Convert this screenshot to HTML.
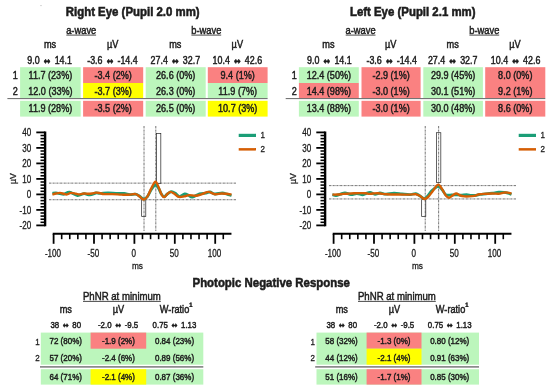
<!DOCTYPE html>
<html lang="en"><head><meta charset="utf-8"><title>ERG Report</title>
<style>
html,body{margin:0;padding:0;background:#fff;}
body{width:550px;height:390px;overflow:hidden;}
svg{display:block;font-family:'Liberation Sans', 'DejaVu Sans', sans-serif;}
text{stroke:#1c1c1c;stroke-width:0.45px;}
text.ttl{stroke-width:0.55px;}
text.ax{stroke-width:0.3px;}
</style></head><body>
<svg width="550" height="390" viewBox="0 0 550 390">
<rect width="550" height="390" fill="#fff"/>
<circle cx="41" cy="5.6" r="0.6" fill="#b0b0b0"/>
<text transform="translate(132.70,15.80) scale(0.907,1)" font-size="12.6" font-weight="bold" text-anchor="middle" fill="#1c1c1c" class="ttl">Right Eye (Pupil 2.0 mm)</text>
<text transform="translate(81.20,33.60) scale(0.9,1)" font-size="10.4" font-weight="normal" text-anchor="middle" fill="#1c1c1c">a-wave</text>
<line x1="66.30" y1="35.10" x2="96.10" y2="35.10" stroke="#1c1c1c" stroke-width="0.8"/>
<text transform="translate(206.30,33.60) scale(0.9,1)" font-size="10.4" font-weight="normal" text-anchor="middle" fill="#1c1c1c">b-wave</text>
<line x1="191.40" y1="35.10" x2="221.20" y2="35.10" stroke="#1c1c1c" stroke-width="0.8"/>
<text transform="translate(50.00,48.40) scale(0.92,1)" font-size="10.0" font-weight="normal" text-anchor="middle" fill="#1c1c1c">ms</text>
<text transform="translate(49.65,63.60) scale(0.88,1)" font-size="10.1" font-weight="normal" text-anchor="middle" fill="#1c1c1c" style="word-spacing:1.9px">9.0 <tspan font-family="DejaVu Sans, sans-serif" font-weight="bold" font-size="0.9em">↔</tspan> 14.1</text>
<text transform="translate(112.75,48.40) scale(0.92,1)" font-size="10.0" font-weight="normal" text-anchor="middle" fill="#1c1c1c">µV</text>
<text transform="translate(112.45,63.60) scale(0.88,1)" font-size="10.1" font-weight="normal" text-anchor="middle" fill="#1c1c1c" style="word-spacing:1.9px">-3.6 <tspan font-family="DejaVu Sans, sans-serif" font-weight="bold" font-size="0.9em">↔</tspan> -14.4</text>
<text transform="translate(175.30,48.40) scale(0.92,1)" font-size="10.0" font-weight="normal" text-anchor="middle" fill="#1c1c1c">ms</text>
<text transform="translate(175.35,63.60) scale(0.88,1)" font-size="10.1" font-weight="normal" text-anchor="middle" fill="#1c1c1c" style="word-spacing:1.9px">27.4 <tspan font-family="DejaVu Sans, sans-serif" font-weight="bold" font-size="0.9em">↔</tspan> 32.7</text>
<text transform="translate(237.30,48.40) scale(0.92,1)" font-size="10.0" font-weight="normal" text-anchor="middle" fill="#1c1c1c">µV</text>
<text transform="translate(237.35,63.60) scale(0.88,1)" font-size="10.1" font-weight="normal" text-anchor="middle" fill="#1c1c1c" style="word-spacing:1.9px">10.4 <tspan font-family="DejaVu Sans, sans-serif" font-weight="bold" font-size="0.9em">↔</tspan> 42.6</text>
<rect x="20.10" y="67.20" width="60.60" height="15.80" fill="#bcf6bc"/>
<text transform="translate(50.40,79.40) scale(0.9,1)" font-size="10.1" font-weight="normal" text-anchor="middle" fill="#1c1c1c">11.7 (23%)</text>
<rect x="83.10" y="67.20" width="60.10" height="15.80" fill="#fa8181"/>
<text transform="translate(113.15,79.40) scale(0.9,1)" font-size="10.1" font-weight="normal" text-anchor="middle" fill="#1c1c1c">-3.4 (2%)</text>
<rect x="145.70" y="67.20" width="60.00" height="15.80" fill="#bcf6bc"/>
<text transform="translate(175.70,79.40) scale(0.9,1)" font-size="10.1" font-weight="normal" text-anchor="middle" fill="#1c1c1c">26.6 (0%)</text>
<rect x="207.80" y="67.20" width="59.80" height="15.80" fill="#fa8181"/>
<text transform="translate(237.70,79.40) scale(0.9,1)" font-size="10.1" font-weight="normal" text-anchor="middle" fill="#1c1c1c">9.4 (1%)</text>
<rect x="20.10" y="83.00" width="60.60" height="15.10" fill="#bcf6bc"/>
<text transform="translate(50.40,94.60) scale(0.9,1)" font-size="10.1" font-weight="normal" text-anchor="middle" fill="#1c1c1c">12.0 (33%)</text>
<rect x="83.10" y="83.00" width="60.10" height="15.10" fill="#ffff00"/>
<text transform="translate(113.15,94.60) scale(0.9,1)" font-size="10.1" font-weight="normal" text-anchor="middle" fill="#1c1c1c">-3.7 (3%)</text>
<rect x="145.70" y="83.00" width="60.00" height="15.10" fill="#bcf6bc"/>
<text transform="translate(175.70,94.60) scale(0.9,1)" font-size="10.1" font-weight="normal" text-anchor="middle" fill="#1c1c1c">26.3 (0%)</text>
<rect x="207.80" y="83.00" width="59.80" height="15.10" fill="#bcf6bc"/>
<text transform="translate(237.70,94.60) scale(0.9,1)" font-size="10.1" font-weight="normal" text-anchor="middle" fill="#1c1c1c">11.9 (7%)</text>
<rect x="20.10" y="100.80" width="60.60" height="15.80" fill="#bcf6bc"/>
<text transform="translate(50.40,112.30) scale(0.9,1)" font-size="10.1" font-weight="normal" text-anchor="middle" fill="#1c1c1c">11.9 (28%)</text>
<rect x="83.10" y="100.80" width="60.10" height="15.80" fill="#fa8181"/>
<text transform="translate(113.15,112.30) scale(0.9,1)" font-size="10.1" font-weight="normal" text-anchor="middle" fill="#1c1c1c">-3.5 (2%)</text>
<rect x="145.70" y="100.80" width="60.00" height="15.80" fill="#bcf6bc"/>
<text transform="translate(175.70,112.30) scale(0.9,1)" font-size="10.1" font-weight="normal" text-anchor="middle" fill="#1c1c1c">26.5 (0%)</text>
<rect x="207.80" y="100.80" width="59.80" height="15.80" fill="#ffff00"/>
<text transform="translate(237.70,112.30) scale(0.9,1)" font-size="10.1" font-weight="normal" text-anchor="middle" fill="#1c1c1c">10.7 (3%)</text>
<text transform="translate(17.90,79.40) scale(0.9,1)" font-size="10.1" font-weight="normal" text-anchor="end" fill="#1c1c1c">1</text>
<text transform="translate(17.90,94.60) scale(0.9,1)" font-size="10.1" font-weight="normal" text-anchor="end" fill="#1c1c1c">2</text>
<line x1="7.40" y1="98.60" x2="267.60" y2="98.60" stroke="#4a4a4a" stroke-width="0.85"/>
<text transform="translate(412.70,15.80) scale(0.907,1)" font-size="12.6" font-weight="bold" text-anchor="middle" fill="#1c1c1c" class="ttl">Left Eye (Pupil 2.1 mm)</text>
<text transform="translate(360.60,33.60) scale(0.9,1)" font-size="10.4" font-weight="normal" text-anchor="middle" fill="#1c1c1c">a-wave</text>
<line x1="345.70" y1="35.10" x2="375.50" y2="35.10" stroke="#1c1c1c" stroke-width="0.8"/>
<text transform="translate(484.30,33.60) scale(0.9,1)" font-size="10.4" font-weight="normal" text-anchor="middle" fill="#1c1c1c">b-wave</text>
<line x1="469.40" y1="35.10" x2="499.20" y2="35.10" stroke="#1c1c1c" stroke-width="0.8"/>
<text transform="translate(328.45,48.40) scale(0.92,1)" font-size="10.0" font-weight="normal" text-anchor="middle" fill="#1c1c1c">ms</text>
<text transform="translate(329.40,63.60) scale(0.88,1)" font-size="10.1" font-weight="normal" text-anchor="middle" fill="#1c1c1c" style="word-spacing:1.9px">9.0 <tspan font-family="DejaVu Sans, sans-serif" font-weight="bold" font-size="0.9em">↔</tspan> 14.1</text>
<text transform="translate(390.65,48.40) scale(0.92,1)" font-size="10.0" font-weight="normal" text-anchor="middle" fill="#1c1c1c">µV</text>
<text transform="translate(391.70,63.60) scale(0.88,1)" font-size="10.1" font-weight="normal" text-anchor="middle" fill="#1c1c1c" style="word-spacing:1.9px">-3.6 <tspan font-family="DejaVu Sans, sans-serif" font-weight="bold" font-size="0.9em">↔</tspan> -14.4</text>
<text transform="translate(452.70,48.40) scale(0.92,1)" font-size="10.0" font-weight="normal" text-anchor="middle" fill="#1c1c1c">ms</text>
<text transform="translate(452.65,63.60) scale(0.88,1)" font-size="10.1" font-weight="normal" text-anchor="middle" fill="#1c1c1c" style="word-spacing:1.9px">27.4 <tspan font-family="DejaVu Sans, sans-serif" font-weight="bold" font-size="0.9em">↔</tspan> 32.7</text>
<text transform="translate(514.85,48.40) scale(0.92,1)" font-size="10.0" font-weight="normal" text-anchor="middle" fill="#1c1c1c">µV</text>
<text transform="translate(515.60,63.60) scale(0.88,1)" font-size="10.1" font-weight="normal" text-anchor="middle" fill="#1c1c1c" style="word-spacing:1.9px">10.4 <tspan font-family="DejaVu Sans, sans-serif" font-weight="bold" font-size="0.9em">↔</tspan> 42.6</text>
<rect x="298.90" y="67.20" width="59.90" height="15.80" fill="#bcf6bc"/>
<text transform="translate(328.85,79.40) scale(0.9,1)" font-size="10.1" font-weight="normal" text-anchor="middle" fill="#1c1c1c">12.4 (50%)</text>
<rect x="361.50" y="67.20" width="59.10" height="15.80" fill="#fa8181"/>
<text transform="translate(391.05,79.40) scale(0.9,1)" font-size="10.1" font-weight="normal" text-anchor="middle" fill="#1c1c1c">-2.9 (1%)</text>
<rect x="423.30" y="67.20" width="59.60" height="15.80" fill="#bcf6bc"/>
<text transform="translate(453.10,79.40) scale(0.9,1)" font-size="10.1" font-weight="normal" text-anchor="middle" fill="#1c1c1c">29.9 (45%)</text>
<rect x="485.20" y="67.20" width="60.10" height="15.80" fill="#fa8181"/>
<text transform="translate(515.25,79.40) scale(0.9,1)" font-size="10.1" font-weight="normal" text-anchor="middle" fill="#1c1c1c">8.0 (0%)</text>
<rect x="298.90" y="83.00" width="59.90" height="15.10" fill="#fa8181"/>
<text transform="translate(328.85,94.60) scale(0.9,1)" font-size="10.1" font-weight="normal" text-anchor="middle" fill="#1c1c1c">14.4 (98%)</text>
<rect x="361.50" y="83.00" width="59.10" height="15.10" fill="#fa8181"/>
<text transform="translate(391.05,94.60) scale(0.9,1)" font-size="10.1" font-weight="normal" text-anchor="middle" fill="#1c1c1c">-3.0 (1%)</text>
<rect x="423.30" y="83.00" width="59.60" height="15.10" fill="#bcf6bc"/>
<text transform="translate(453.10,94.60) scale(0.9,1)" font-size="10.1" font-weight="normal" text-anchor="middle" fill="#1c1c1c">30.1 (51%)</text>
<rect x="485.20" y="83.00" width="60.10" height="15.10" fill="#fa8181"/>
<text transform="translate(515.25,94.60) scale(0.9,1)" font-size="10.1" font-weight="normal" text-anchor="middle" fill="#1c1c1c">9.2 (1%)</text>
<rect x="298.90" y="100.80" width="59.90" height="15.80" fill="#bcf6bc"/>
<text transform="translate(328.85,112.30) scale(0.9,1)" font-size="10.1" font-weight="normal" text-anchor="middle" fill="#1c1c1c">13.4 (88%)</text>
<rect x="361.50" y="100.80" width="59.10" height="15.80" fill="#fa8181"/>
<text transform="translate(391.05,112.30) scale(0.9,1)" font-size="10.1" font-weight="normal" text-anchor="middle" fill="#1c1c1c">-3.0 (1%)</text>
<rect x="423.30" y="100.80" width="59.60" height="15.80" fill="#bcf6bc"/>
<text transform="translate(453.10,112.30) scale(0.9,1)" font-size="10.1" font-weight="normal" text-anchor="middle" fill="#1c1c1c">30.0 (48%)</text>
<rect x="485.20" y="100.80" width="60.10" height="15.80" fill="#fa8181"/>
<text transform="translate(515.25,112.30) scale(0.9,1)" font-size="10.1" font-weight="normal" text-anchor="middle" fill="#1c1c1c">8.6 (0%)</text>
<text transform="translate(296.80,79.40) scale(0.9,1)" font-size="10.1" font-weight="normal" text-anchor="end" fill="#1c1c1c">1</text>
<text transform="translate(296.80,94.60) scale(0.9,1)" font-size="10.1" font-weight="normal" text-anchor="end" fill="#1c1c1c">2</text>
<line x1="285.70" y1="98.60" x2="545.30" y2="98.60" stroke="#4a4a4a" stroke-width="0.85"/>
<rect x="141.67" y="199.68" width="4.12" height="16.74" fill="#fff" stroke="#222" stroke-width="0.7"/>
<rect x="156.54" y="133.50" width="4.28" height="49.91" fill="#fff" stroke="#222" stroke-width="0.7"/>
<line x1="49.00" y1="183.14" x2="236.00" y2="183.14" stroke="#444" stroke-width="0.75" stroke-dasharray="2 0.55 0.6 0.55"/>
<line x1="49.00" y1="199.73" x2="236.00" y2="199.73" stroke="#444" stroke-width="0.75" stroke-dasharray="2 0.55 0.6 0.55"/>
<line x1="144.02" y1="126.00" x2="144.02" y2="231.00" stroke="#444" stroke-width="0.75" stroke-dasharray="2 0.55 0.6 0.55"/>
<line x1="155.81" y1="126.00" x2="155.81" y2="231.00" stroke="#444" stroke-width="0.75" stroke-dasharray="2 0.55 0.6 0.55"/>
<path d="M52.40,193.30 C53.00,193.23 54.73,192.85 56.00,192.90 C57.27,192.95 58.67,193.38 60.00,193.60 C61.33,193.82 62.42,194.43 64.00,194.20 C65.58,193.97 67.25,191.98 69.50,192.20 C71.75,192.42 75.08,195.25 77.50,195.50 C79.92,195.75 81.92,193.80 84.00,193.70 C86.08,193.60 88.00,195.02 90.00,194.90 C92.00,194.78 94.33,193.25 96.00,193.00 C97.67,192.75 98.00,193.42 100.00,193.40 C102.00,193.38 105.33,192.92 108.00,192.90 C110.67,192.88 113.33,193.20 116.00,193.30 C118.67,193.40 121.67,193.28 124.00,193.50 C126.33,193.72 128.08,194.50 130.00,194.60 C131.92,194.70 133.95,193.87 135.50,194.10 C137.05,194.33 137.95,195.18 139.30,196.00 C140.65,196.82 142.25,198.90 143.60,199.00 C144.95,199.10 146.12,198.18 147.40,196.60 C148.68,195.02 149.97,191.47 151.30,189.50 C152.63,187.53 154.23,185.08 155.40,184.80 C156.57,184.52 157.28,186.22 158.30,187.80 C159.32,189.38 160.52,192.78 161.50,194.30 C162.48,195.82 163.23,196.95 164.20,196.90 C165.17,196.85 166.08,194.88 167.30,194.00 C168.52,193.12 170.15,191.72 171.50,191.60 C172.85,191.48 174.07,192.47 175.40,193.30 C176.73,194.13 177.95,196.48 179.50,196.60 C181.05,196.72 183.20,194.22 184.70,194.00 C186.20,193.78 187.22,194.77 188.50,195.30 C189.78,195.83 190.57,197.45 192.40,197.20 C194.23,196.95 197.25,194.47 199.50,193.80 C201.75,193.13 204.15,193.50 205.90,193.20 C207.65,192.90 208.50,191.87 210.00,192.00 C211.50,192.13 212.85,193.83 214.90,194.00 C216.95,194.17 220.28,192.97 222.30,193.00 C224.32,193.03 225.47,193.77 227.00,194.20 C228.53,194.63 230.75,195.37 231.50,195.60" fill="none" stroke="#1b9e77" stroke-width="2.8" stroke-linecap="butt" stroke-linejoin="round"/>
<path d="M52.40,194.50 C53.00,194.33 54.73,193.77 56.00,193.50 C57.27,193.23 58.67,192.83 60.00,192.90 C61.33,192.97 62.83,193.65 64.00,193.90 C65.17,194.15 65.83,194.57 67.00,194.40 C68.17,194.23 69.50,193.00 71.00,192.90 C72.50,192.80 74.50,193.55 76.00,193.80 C77.50,194.05 78.67,194.45 80.00,194.40 C81.33,194.35 82.67,193.60 84.00,193.50 C85.33,193.40 86.67,193.80 88.00,193.80 C89.33,193.80 90.67,193.70 92.00,193.50 C93.33,193.30 94.67,192.67 96.00,192.60 C97.33,192.53 98.67,192.85 100.00,193.10 C101.33,193.35 101.95,193.93 104.00,194.10 C106.05,194.27 109.40,194.02 112.30,194.10 C115.20,194.18 118.68,194.48 121.40,194.60 C124.12,194.72 126.25,194.88 128.60,194.80 C130.95,194.72 133.72,193.87 135.50,194.10 C137.28,194.33 137.95,195.30 139.30,196.20 C140.65,197.10 142.25,199.43 143.60,199.50 C144.95,199.57 146.12,198.45 147.40,196.60 C148.68,194.75 149.97,190.90 151.30,188.40 C152.63,185.90 154.23,181.90 155.40,181.60 C156.57,181.30 157.28,184.48 158.30,186.60 C159.32,188.72 160.52,192.55 161.50,194.30 C162.48,196.05 163.23,197.15 164.20,197.10 C165.17,197.05 166.25,194.87 167.30,194.00 C168.35,193.13 169.32,191.93 170.50,191.90 C171.68,191.87 173.02,192.97 174.40,193.80 C175.78,194.63 177.18,196.47 178.80,196.90 C180.42,197.33 182.37,196.70 184.10,196.40 C185.83,196.10 187.28,195.20 189.20,195.10 C191.12,195.00 193.47,195.95 195.60,195.80 C197.73,195.65 199.85,194.85 202.00,194.20 C204.15,193.55 206.35,191.90 208.50,191.90 C210.65,191.90 212.77,193.93 214.90,194.20 C217.03,194.47 219.38,193.57 221.30,193.50 C223.22,193.43 224.70,193.63 226.40,193.80 C228.10,193.97 230.65,194.38 231.50,194.50" fill="none" stroke="#d55e04" stroke-width="2.4" stroke-linecap="butt" stroke-linejoin="round"/>
<line x1="45.10" y1="131.50" x2="45.10" y2="226.30" stroke="#000" stroke-width="2.4"/>
<line x1="36.30" y1="225.40" x2="45.10" y2="225.40" stroke="#000" stroke-width="1.8"/>
<text transform="translate(31.30,229.15) scale(0.81,1)" font-size="10.0" font-weight="normal" text-anchor="end" fill="#1c1c1c" class="ax">-20</text>
<line x1="40.50" y1="222.30" x2="45.10" y2="222.30" stroke="#000" stroke-width="1.55"/>
<line x1="40.50" y1="219.20" x2="45.10" y2="219.20" stroke="#000" stroke-width="1.55"/>
<line x1="40.50" y1="216.10" x2="45.10" y2="216.10" stroke="#000" stroke-width="1.55"/>
<line x1="40.50" y1="213.00" x2="45.10" y2="213.00" stroke="#000" stroke-width="1.55"/>
<line x1="36.30" y1="209.90" x2="45.10" y2="209.90" stroke="#000" stroke-width="1.8"/>
<text transform="translate(31.30,213.65) scale(0.81,1)" font-size="10.0" font-weight="normal" text-anchor="end" fill="#1c1c1c" class="ax">-10</text>
<line x1="40.50" y1="206.80" x2="45.10" y2="206.80" stroke="#000" stroke-width="1.55"/>
<line x1="40.50" y1="203.70" x2="45.10" y2="203.70" stroke="#000" stroke-width="1.55"/>
<line x1="40.50" y1="200.60" x2="45.10" y2="200.60" stroke="#000" stroke-width="1.55"/>
<line x1="40.50" y1="197.50" x2="45.10" y2="197.50" stroke="#000" stroke-width="1.55"/>
<line x1="36.30" y1="194.40" x2="45.10" y2="194.40" stroke="#000" stroke-width="1.8"/>
<text transform="translate(31.30,198.15) scale(0.81,1)" font-size="10.0" font-weight="normal" text-anchor="end" fill="#1c1c1c" class="ax">0</text>
<line x1="40.50" y1="191.30" x2="45.10" y2="191.30" stroke="#000" stroke-width="1.55"/>
<line x1="40.50" y1="188.20" x2="45.10" y2="188.20" stroke="#000" stroke-width="1.55"/>
<line x1="40.50" y1="185.10" x2="45.10" y2="185.10" stroke="#000" stroke-width="1.55"/>
<line x1="40.50" y1="182.00" x2="45.10" y2="182.00" stroke="#000" stroke-width="1.55"/>
<line x1="36.30" y1="178.90" x2="45.10" y2="178.90" stroke="#000" stroke-width="1.8"/>
<text transform="translate(31.30,182.65) scale(0.81,1)" font-size="10.0" font-weight="normal" text-anchor="end" fill="#1c1c1c" class="ax">10</text>
<line x1="40.50" y1="175.80" x2="45.10" y2="175.80" stroke="#000" stroke-width="1.55"/>
<line x1="40.50" y1="172.70" x2="45.10" y2="172.70" stroke="#000" stroke-width="1.55"/>
<line x1="40.50" y1="169.60" x2="45.10" y2="169.60" stroke="#000" stroke-width="1.55"/>
<line x1="40.50" y1="166.50" x2="45.10" y2="166.50" stroke="#000" stroke-width="1.55"/>
<line x1="36.30" y1="163.40" x2="45.10" y2="163.40" stroke="#000" stroke-width="1.8"/>
<text transform="translate(31.30,167.15) scale(0.81,1)" font-size="10.0" font-weight="normal" text-anchor="end" fill="#1c1c1c" class="ax">20</text>
<line x1="40.50" y1="160.30" x2="45.10" y2="160.30" stroke="#000" stroke-width="1.55"/>
<line x1="40.50" y1="157.20" x2="45.10" y2="157.20" stroke="#000" stroke-width="1.55"/>
<line x1="40.50" y1="154.10" x2="45.10" y2="154.10" stroke="#000" stroke-width="1.55"/>
<line x1="40.50" y1="151.00" x2="45.10" y2="151.00" stroke="#000" stroke-width="1.55"/>
<line x1="36.30" y1="147.90" x2="45.10" y2="147.90" stroke="#000" stroke-width="1.8"/>
<text transform="translate(31.30,151.65) scale(0.81,1)" font-size="10.0" font-weight="normal" text-anchor="end" fill="#1c1c1c" class="ax">30</text>
<line x1="40.50" y1="144.80" x2="45.10" y2="144.80" stroke="#000" stroke-width="1.55"/>
<line x1="40.50" y1="141.70" x2="45.10" y2="141.70" stroke="#000" stroke-width="1.55"/>
<line x1="40.50" y1="138.60" x2="45.10" y2="138.60" stroke="#000" stroke-width="1.55"/>
<line x1="40.50" y1="135.50" x2="45.10" y2="135.50" stroke="#000" stroke-width="1.55"/>
<line x1="36.30" y1="132.40" x2="45.10" y2="132.40" stroke="#000" stroke-width="1.8"/>
<text transform="translate(31.30,136.15) scale(0.81,1)" font-size="10.0" font-weight="normal" text-anchor="end" fill="#1c1c1c" class="ax">40</text>
<text transform="translate(16.30,178.7) rotate(-90) scale(0.92,1)" font-size="9.4" text-anchor="middle" fill="#1c1c1c" class="ax">µV</text>
<line x1="52.70" y1="233.80" x2="231.46" y2="233.80" stroke="#000" stroke-width="2.1"/>
<line x1="53.60" y1="233.90" x2="53.60" y2="243.80" stroke="#000" stroke-width="1.8"/>
<text transform="translate(53.00,257.20) scale(0.81,1)" font-size="10.0" font-weight="normal" text-anchor="middle" fill="#1c1c1c" class="ax">-100</text>
<line x1="61.68" y1="233.90" x2="61.68" y2="239.20" stroke="#000" stroke-width="1.6"/>
<line x1="69.76" y1="233.90" x2="69.76" y2="239.20" stroke="#000" stroke-width="1.6"/>
<line x1="77.84" y1="233.90" x2="77.84" y2="239.20" stroke="#000" stroke-width="1.6"/>
<line x1="85.92" y1="233.90" x2="85.92" y2="239.20" stroke="#000" stroke-width="1.6"/>
<line x1="94.00" y1="233.90" x2="94.00" y2="243.80" stroke="#000" stroke-width="1.8"/>
<text transform="translate(93.40,257.20) scale(0.81,1)" font-size="10.0" font-weight="normal" text-anchor="middle" fill="#1c1c1c" class="ax">-50</text>
<line x1="102.08" y1="233.90" x2="102.08" y2="239.20" stroke="#000" stroke-width="1.6"/>
<line x1="110.16" y1="233.90" x2="110.16" y2="239.20" stroke="#000" stroke-width="1.6"/>
<line x1="118.24" y1="233.90" x2="118.24" y2="239.20" stroke="#000" stroke-width="1.6"/>
<line x1="126.32" y1="233.90" x2="126.32" y2="239.20" stroke="#000" stroke-width="1.6"/>
<line x1="134.40" y1="233.90" x2="134.40" y2="243.80" stroke="#000" stroke-width="1.8"/>
<text transform="translate(133.80,257.20) scale(0.81,1)" font-size="10.0" font-weight="normal" text-anchor="middle" fill="#1c1c1c" class="ax">0</text>
<line x1="142.48" y1="233.90" x2="142.48" y2="239.20" stroke="#000" stroke-width="1.6"/>
<line x1="150.56" y1="233.90" x2="150.56" y2="239.20" stroke="#000" stroke-width="1.6"/>
<line x1="158.64" y1="233.90" x2="158.64" y2="239.20" stroke="#000" stroke-width="1.6"/>
<line x1="166.72" y1="233.90" x2="166.72" y2="239.20" stroke="#000" stroke-width="1.6"/>
<line x1="174.80" y1="233.90" x2="174.80" y2="243.80" stroke="#000" stroke-width="1.8"/>
<text transform="translate(174.20,257.20) scale(0.81,1)" font-size="10.0" font-weight="normal" text-anchor="middle" fill="#1c1c1c" class="ax">50</text>
<line x1="182.88" y1="233.90" x2="182.88" y2="239.20" stroke="#000" stroke-width="1.6"/>
<line x1="190.96" y1="233.90" x2="190.96" y2="239.20" stroke="#000" stroke-width="1.6"/>
<line x1="199.04" y1="233.90" x2="199.04" y2="239.20" stroke="#000" stroke-width="1.6"/>
<line x1="207.12" y1="233.90" x2="207.12" y2="239.20" stroke="#000" stroke-width="1.6"/>
<line x1="215.20" y1="233.90" x2="215.20" y2="243.80" stroke="#000" stroke-width="1.8"/>
<text transform="translate(214.60,257.20) scale(0.81,1)" font-size="10.0" font-weight="normal" text-anchor="middle" fill="#1c1c1c" class="ax">100</text>
<line x1="223.28" y1="233.90" x2="223.28" y2="239.20" stroke="#000" stroke-width="1.6"/>
<text transform="translate(137.40,268.60) scale(0.88,1)" font-size="9.4" font-weight="normal" text-anchor="middle" fill="#1c1c1c" class="ax">ms</text>
<line x1="238.70" y1="135.40" x2="256.00" y2="135.40" stroke="#1b9e77" stroke-width="3.2"/>
<line x1="238.70" y1="149.35" x2="256.00" y2="149.35" stroke="#d55e04" stroke-width="2.5"/>
<text transform="translate(260.40,138.40) scale(0.84,1)" font-size="9.6" font-weight="normal" text-anchor="start" fill="#1c1c1c" class="ax">1</text>
<text transform="translate(260.40,152.40) scale(0.84,1)" font-size="9.6" font-weight="normal" text-anchor="start" fill="#1c1c1c" class="ax">2</text>
<rect x="421.67" y="199.68" width="4.12" height="16.74" fill="#fff" stroke="#222" stroke-width="0.7"/>
<rect x="436.54" y="132.72" width="4.28" height="49.91" fill="#fff" stroke="#222" stroke-width="0.7"/>
<line x1="329.00" y1="185.62" x2="516.00" y2="185.62" stroke="#444" stroke-width="0.75" stroke-dasharray="2 0.55 0.6 0.55"/>
<line x1="329.00" y1="198.95" x2="516.00" y2="198.95" stroke="#444" stroke-width="0.75" stroke-dasharray="2 0.55 0.6 0.55"/>
<line x1="425.23" y1="126.00" x2="425.23" y2="231.00" stroke="#444" stroke-width="0.75" stroke-dasharray="2 0.55 0.6 0.55"/>
<line x1="438.64" y1="126.00" x2="438.64" y2="231.00" stroke="#444" stroke-width="0.75" stroke-dasharray="2 0.55 0.6 0.55"/>
<path d="M332.40,194.70 C333.00,194.83 334.65,195.58 336.00,195.50 C337.35,195.42 339.00,194.65 340.50,194.20 C342.00,193.75 343.25,192.75 345.00,192.80 C346.75,192.85 349.00,194.37 351.00,194.50 C353.00,194.63 355.08,193.55 357.00,193.60 C358.92,193.65 361.00,194.80 362.50,194.80 C364.00,194.80 364.75,194.02 366.00,193.60 C367.25,193.18 368.50,192.18 370.00,192.30 C371.50,192.42 373.33,194.18 375.00,194.30 C376.67,194.42 378.17,193.02 380.00,193.00 C381.83,192.98 383.67,194.17 386.00,194.20 C388.33,194.23 391.33,193.23 394.00,193.20 C396.67,193.17 399.33,193.77 402.00,194.00 C404.67,194.23 407.70,194.67 410.00,194.60 C412.30,194.53 414.18,193.40 415.80,193.60 C417.42,193.80 418.30,194.97 419.70,195.80 C421.10,196.63 422.88,198.57 424.20,198.60 C425.52,198.63 426.30,197.33 427.60,196.00 C428.90,194.67 430.25,192.22 432.00,190.60 C433.75,188.98 436.40,186.43 438.10,186.30 C439.80,186.17 440.95,188.42 442.20,189.80 C443.45,191.18 444.43,193.70 445.60,194.60 C446.77,195.50 447.95,195.17 449.20,195.20 C450.45,195.23 451.80,194.87 453.10,194.80 C454.40,194.73 455.68,194.73 457.00,194.80 C458.32,194.87 459.38,195.23 461.00,195.20 C462.62,195.17 465.03,194.57 466.70,194.60 C468.37,194.63 469.45,195.27 471.00,195.40 C472.55,195.53 474.50,195.57 476.00,195.40 C477.50,195.23 478.33,194.65 480.00,194.40 C481.67,194.15 483.95,194.10 486.00,193.90 C488.05,193.70 490.18,193.48 492.30,193.20 C494.42,192.92 496.75,192.33 498.70,192.20 C500.65,192.07 502.45,192.23 504.00,192.40 C505.55,192.57 506.75,192.87 508.00,193.20 C509.25,193.53 510.92,194.20 511.50,194.40" fill="none" stroke="#1b9e77" stroke-width="2.8" stroke-linecap="butt" stroke-linejoin="round"/>
<path d="M332.40,194.60 C333.33,194.58 336.20,194.62 338.00,194.50 C339.80,194.38 341.37,194.05 343.20,193.90 C345.03,193.75 347.20,193.70 349.00,193.60 C350.80,193.50 352.17,193.38 354.00,193.30 C355.83,193.22 358.00,193.12 360.00,193.10 C362.00,193.08 364.50,193.07 366.00,193.20 C367.50,193.33 367.83,193.85 369.00,193.90 C370.17,193.95 371.50,193.62 373.00,193.50 C374.50,193.38 376.50,193.15 378.00,193.20 C379.50,193.25 380.53,193.63 382.00,193.80 C383.47,193.97 384.18,194.08 386.80,194.20 C389.42,194.32 394.37,194.43 397.70,194.50 C401.03,194.57 404.25,194.62 406.80,194.60 C409.35,194.58 411.50,194.47 413.00,194.40 C414.50,194.33 414.68,193.97 415.80,194.20 C416.92,194.43 418.30,195.00 419.70,195.80 C421.10,196.60 422.80,198.80 424.20,199.00 C425.60,199.20 426.70,198.28 428.10,197.00 C429.50,195.72 430.93,193.37 432.60,191.30 C434.27,189.23 436.50,184.92 438.10,184.60 C439.70,184.28 440.88,187.53 442.20,189.40 C443.52,191.27 444.83,194.42 446.00,195.80 C447.17,197.18 448.02,197.82 449.20,197.70 C450.38,197.58 451.92,195.80 453.10,195.10 C454.28,194.40 455.12,193.43 456.30,193.50 C457.48,193.57 458.83,195.02 460.20,195.50 C461.57,195.98 463.00,196.25 464.50,196.40 C466.00,196.55 467.55,196.50 469.20,196.40 C470.85,196.30 472.68,196.17 474.40,195.80 C476.12,195.43 477.58,194.53 479.50,194.20 C481.42,193.87 483.77,193.92 485.90,193.80 C488.03,193.68 490.17,193.50 492.30,193.50 C494.43,193.50 496.78,193.95 498.70,193.80 C500.62,193.65 502.30,192.80 503.80,192.60 C505.30,192.40 506.42,192.45 507.70,192.60 C508.98,192.75 510.87,193.35 511.50,193.50" fill="none" stroke="#d55e04" stroke-width="2.4" stroke-linecap="butt" stroke-linejoin="round"/>
<line x1="325.10" y1="131.50" x2="325.10" y2="226.30" stroke="#000" stroke-width="2.4"/>
<line x1="316.30" y1="225.40" x2="325.10" y2="225.40" stroke="#000" stroke-width="1.8"/>
<text transform="translate(311.30,229.15) scale(0.81,1)" font-size="10.0" font-weight="normal" text-anchor="end" fill="#1c1c1c" class="ax">-20</text>
<line x1="320.50" y1="222.30" x2="325.10" y2="222.30" stroke="#000" stroke-width="1.55"/>
<line x1="320.50" y1="219.20" x2="325.10" y2="219.20" stroke="#000" stroke-width="1.55"/>
<line x1="320.50" y1="216.10" x2="325.10" y2="216.10" stroke="#000" stroke-width="1.55"/>
<line x1="320.50" y1="213.00" x2="325.10" y2="213.00" stroke="#000" stroke-width="1.55"/>
<line x1="316.30" y1="209.90" x2="325.10" y2="209.90" stroke="#000" stroke-width="1.8"/>
<text transform="translate(311.30,213.65) scale(0.81,1)" font-size="10.0" font-weight="normal" text-anchor="end" fill="#1c1c1c" class="ax">-10</text>
<line x1="320.50" y1="206.80" x2="325.10" y2="206.80" stroke="#000" stroke-width="1.55"/>
<line x1="320.50" y1="203.70" x2="325.10" y2="203.70" stroke="#000" stroke-width="1.55"/>
<line x1="320.50" y1="200.60" x2="325.10" y2="200.60" stroke="#000" stroke-width="1.55"/>
<line x1="320.50" y1="197.50" x2="325.10" y2="197.50" stroke="#000" stroke-width="1.55"/>
<line x1="316.30" y1="194.40" x2="325.10" y2="194.40" stroke="#000" stroke-width="1.8"/>
<text transform="translate(311.30,198.15) scale(0.81,1)" font-size="10.0" font-weight="normal" text-anchor="end" fill="#1c1c1c" class="ax">0</text>
<line x1="320.50" y1="191.30" x2="325.10" y2="191.30" stroke="#000" stroke-width="1.55"/>
<line x1="320.50" y1="188.20" x2="325.10" y2="188.20" stroke="#000" stroke-width="1.55"/>
<line x1="320.50" y1="185.10" x2="325.10" y2="185.10" stroke="#000" stroke-width="1.55"/>
<line x1="320.50" y1="182.00" x2="325.10" y2="182.00" stroke="#000" stroke-width="1.55"/>
<line x1="316.30" y1="178.90" x2="325.10" y2="178.90" stroke="#000" stroke-width="1.8"/>
<text transform="translate(311.30,182.65) scale(0.81,1)" font-size="10.0" font-weight="normal" text-anchor="end" fill="#1c1c1c" class="ax">10</text>
<line x1="320.50" y1="175.80" x2="325.10" y2="175.80" stroke="#000" stroke-width="1.55"/>
<line x1="320.50" y1="172.70" x2="325.10" y2="172.70" stroke="#000" stroke-width="1.55"/>
<line x1="320.50" y1="169.60" x2="325.10" y2="169.60" stroke="#000" stroke-width="1.55"/>
<line x1="320.50" y1="166.50" x2="325.10" y2="166.50" stroke="#000" stroke-width="1.55"/>
<line x1="316.30" y1="163.40" x2="325.10" y2="163.40" stroke="#000" stroke-width="1.8"/>
<text transform="translate(311.30,167.15) scale(0.81,1)" font-size="10.0" font-weight="normal" text-anchor="end" fill="#1c1c1c" class="ax">20</text>
<line x1="320.50" y1="160.30" x2="325.10" y2="160.30" stroke="#000" stroke-width="1.55"/>
<line x1="320.50" y1="157.20" x2="325.10" y2="157.20" stroke="#000" stroke-width="1.55"/>
<line x1="320.50" y1="154.10" x2="325.10" y2="154.10" stroke="#000" stroke-width="1.55"/>
<line x1="320.50" y1="151.00" x2="325.10" y2="151.00" stroke="#000" stroke-width="1.55"/>
<line x1="316.30" y1="147.90" x2="325.10" y2="147.90" stroke="#000" stroke-width="1.8"/>
<text transform="translate(311.30,151.65) scale(0.81,1)" font-size="10.0" font-weight="normal" text-anchor="end" fill="#1c1c1c" class="ax">30</text>
<line x1="320.50" y1="144.80" x2="325.10" y2="144.80" stroke="#000" stroke-width="1.55"/>
<line x1="320.50" y1="141.70" x2="325.10" y2="141.70" stroke="#000" stroke-width="1.55"/>
<line x1="320.50" y1="138.60" x2="325.10" y2="138.60" stroke="#000" stroke-width="1.55"/>
<line x1="320.50" y1="135.50" x2="325.10" y2="135.50" stroke="#000" stroke-width="1.55"/>
<line x1="316.30" y1="132.40" x2="325.10" y2="132.40" stroke="#000" stroke-width="1.8"/>
<text transform="translate(311.30,136.15) scale(0.81,1)" font-size="10.0" font-weight="normal" text-anchor="end" fill="#1c1c1c" class="ax">40</text>
<text transform="translate(296.30,178.7) rotate(-90) scale(0.92,1)" font-size="9.4" text-anchor="middle" fill="#1c1c1c" class="ax">µV</text>
<line x1="332.70" y1="233.80" x2="511.46" y2="233.80" stroke="#000" stroke-width="2.1"/>
<line x1="333.60" y1="233.90" x2="333.60" y2="243.80" stroke="#000" stroke-width="1.8"/>
<text transform="translate(333.00,257.20) scale(0.81,1)" font-size="10.0" font-weight="normal" text-anchor="middle" fill="#1c1c1c" class="ax">-100</text>
<line x1="341.68" y1="233.90" x2="341.68" y2="239.20" stroke="#000" stroke-width="1.6"/>
<line x1="349.76" y1="233.90" x2="349.76" y2="239.20" stroke="#000" stroke-width="1.6"/>
<line x1="357.84" y1="233.90" x2="357.84" y2="239.20" stroke="#000" stroke-width="1.6"/>
<line x1="365.92" y1="233.90" x2="365.92" y2="239.20" stroke="#000" stroke-width="1.6"/>
<line x1="374.00" y1="233.90" x2="374.00" y2="243.80" stroke="#000" stroke-width="1.8"/>
<text transform="translate(373.40,257.20) scale(0.81,1)" font-size="10.0" font-weight="normal" text-anchor="middle" fill="#1c1c1c" class="ax">-50</text>
<line x1="382.08" y1="233.90" x2="382.08" y2="239.20" stroke="#000" stroke-width="1.6"/>
<line x1="390.16" y1="233.90" x2="390.16" y2="239.20" stroke="#000" stroke-width="1.6"/>
<line x1="398.24" y1="233.90" x2="398.24" y2="239.20" stroke="#000" stroke-width="1.6"/>
<line x1="406.32" y1="233.90" x2="406.32" y2="239.20" stroke="#000" stroke-width="1.6"/>
<line x1="414.40" y1="233.90" x2="414.40" y2="243.80" stroke="#000" stroke-width="1.8"/>
<text transform="translate(413.80,257.20) scale(0.81,1)" font-size="10.0" font-weight="normal" text-anchor="middle" fill="#1c1c1c" class="ax">0</text>
<line x1="422.48" y1="233.90" x2="422.48" y2="239.20" stroke="#000" stroke-width="1.6"/>
<line x1="430.56" y1="233.90" x2="430.56" y2="239.20" stroke="#000" stroke-width="1.6"/>
<line x1="438.64" y1="233.90" x2="438.64" y2="239.20" stroke="#000" stroke-width="1.6"/>
<line x1="446.72" y1="233.90" x2="446.72" y2="239.20" stroke="#000" stroke-width="1.6"/>
<line x1="454.80" y1="233.90" x2="454.80" y2="243.80" stroke="#000" stroke-width="1.8"/>
<text transform="translate(454.20,257.20) scale(0.81,1)" font-size="10.0" font-weight="normal" text-anchor="middle" fill="#1c1c1c" class="ax">50</text>
<line x1="462.88" y1="233.90" x2="462.88" y2="239.20" stroke="#000" stroke-width="1.6"/>
<line x1="470.96" y1="233.90" x2="470.96" y2="239.20" stroke="#000" stroke-width="1.6"/>
<line x1="479.04" y1="233.90" x2="479.04" y2="239.20" stroke="#000" stroke-width="1.6"/>
<line x1="487.12" y1="233.90" x2="487.12" y2="239.20" stroke="#000" stroke-width="1.6"/>
<line x1="495.20" y1="233.90" x2="495.20" y2="243.80" stroke="#000" stroke-width="1.8"/>
<text transform="translate(494.60,257.20) scale(0.81,1)" font-size="10.0" font-weight="normal" text-anchor="middle" fill="#1c1c1c" class="ax">100</text>
<line x1="503.28" y1="233.90" x2="503.28" y2="239.20" stroke="#000" stroke-width="1.6"/>
<text transform="translate(417.40,268.60) scale(0.88,1)" font-size="9.4" font-weight="normal" text-anchor="middle" fill="#1c1c1c" class="ax">ms</text>
<line x1="518.70" y1="135.40" x2="536.00" y2="135.40" stroke="#1b9e77" stroke-width="3.2"/>
<line x1="518.70" y1="149.35" x2="536.00" y2="149.35" stroke="#d55e04" stroke-width="2.5"/>
<text transform="translate(540.40,138.40) scale(0.84,1)" font-size="9.6" font-weight="normal" text-anchor="start" fill="#1c1c1c" class="ax">1</text>
<text transform="translate(540.40,152.40) scale(0.84,1)" font-size="9.6" font-weight="normal" text-anchor="start" fill="#1c1c1c" class="ax">2</text>
<text transform="translate(271.20,286.90) scale(0.907,1)" font-size="12.6" font-weight="bold" text-anchor="middle" fill="#1c1c1c" class="ttl">Photopic Negative Response</text>
<text transform="translate(121.90,299.80) scale(0.925,1)" font-size="10.4" font-weight="normal" text-anchor="middle" fill="#1c1c1c">PhNR at minimum</text>
<line x1="83.00" y1="301.40" x2="160.80" y2="301.40" stroke="#1c1c1c" stroke-width="0.8"/>
<text transform="translate(65.80,312.50) scale(0.92,1)" font-size="10.0" font-weight="normal" text-anchor="middle" fill="#1c1c1c">ms</text>
<text transform="translate(65.70,328.40) scale(0.885,1)" font-size="8.9" font-weight="normal" text-anchor="middle" fill="#1c1c1c" style="word-spacing:1.6px">38 <tspan font-family="DejaVu Sans, sans-serif" font-weight="bold" font-size="0.9em">↔</tspan> 80</text>
<text transform="translate(118.40,312.50) scale(0.92,1)" font-size="10.0" font-weight="normal" text-anchor="middle" fill="#1c1c1c">µV</text>
<text transform="translate(118.10,328.40) scale(0.885,1)" font-size="8.9" font-weight="normal" text-anchor="middle" fill="#1c1c1c" style="word-spacing:1.6px">-2.0 <tspan font-family="DejaVu Sans, sans-serif" font-weight="bold" font-size="0.9em">↔</tspan> -9.5</text>
<text transform="translate(176.20,312.50) scale(0.92,1)" font-size="10.0" font-weight="normal" text-anchor="middle" fill="#1c1c1c">W-ratio<tspan dy="-1.7" font-weight="bold" font-size="1.08em">¹</tspan></text>
<text transform="translate(174.50,328.40) scale(0.885,1)" font-size="8.9" font-weight="normal" text-anchor="middle" fill="#1c1c1c" style="word-spacing:1.6px">0.75 <tspan font-family="DejaVu Sans, sans-serif" font-weight="bold" font-size="0.9em">↔</tspan> 1.13</text>
<rect x="40.80" y="332.60" width="162.50" height="32.10" fill="#bcf6bc"/>
<rect x="40.80" y="369.20" width="162.50" height="15.40" fill="#bcf6bc"/>
<rect x="90.60" y="332.60" width="55.60" height="16.10" fill="#fa8181"/>
<rect x="90.60" y="369.20" width="55.60" height="15.40" fill="#ffff00"/>
<text transform="translate(65.70,344.40) scale(0.9,1)" font-size="8.9" font-weight="normal" text-anchor="middle" fill="#1c1c1c">72 (80%)</text>
<text transform="translate(118.40,344.40) scale(0.9,1)" font-size="8.9" font-weight="normal" text-anchor="middle" fill="#1c1c1c">-1.9 (2%)</text>
<text transform="translate(174.50,344.40) scale(0.9,1)" font-size="8.9" font-weight="normal" text-anchor="middle" fill="#1c1c1c">0.84 (23%)</text>
<text transform="translate(65.70,360.60) scale(0.9,1)" font-size="8.9" font-weight="normal" text-anchor="middle" fill="#1c1c1c">57 (20%)</text>
<text transform="translate(118.40,360.60) scale(0.9,1)" font-size="8.9" font-weight="normal" text-anchor="middle" fill="#1c1c1c">-2.4 (6%)</text>
<text transform="translate(174.50,360.60) scale(0.9,1)" font-size="8.9" font-weight="normal" text-anchor="middle" fill="#1c1c1c">0.89 (56%)</text>
<text transform="translate(65.70,380.20) scale(0.9,1)" font-size="8.9" font-weight="normal" text-anchor="middle" fill="#1c1c1c">64 (71%)</text>
<text transform="translate(118.40,380.20) scale(0.9,1)" font-size="8.9" font-weight="normal" text-anchor="middle" fill="#1c1c1c">-2.1 (4%)</text>
<text transform="translate(174.50,380.20) scale(0.9,1)" font-size="8.9" font-weight="normal" text-anchor="middle" fill="#1c1c1c">0.87 (36%)</text>
<text transform="translate(39.80,344.60) scale(0.9,1)" font-size="8.9" font-weight="normal" text-anchor="end" fill="#1c1c1c" class="ax">1</text>
<text transform="translate(39.80,360.80) scale(0.9,1)" font-size="8.9" font-weight="normal" text-anchor="end" fill="#1c1c1c" class="ax">2</text>
<line x1="40.00" y1="366.90" x2="203.30" y2="366.90" stroke="#8c8c8c" stroke-width="1.9"/>
<text transform="translate(396.90,299.80) scale(0.925,1)" font-size="10.4" font-weight="normal" text-anchor="middle" fill="#1c1c1c">PhNR at minimum</text>
<line x1="358.00" y1="301.40" x2="435.80" y2="301.40" stroke="#1c1c1c" stroke-width="0.8"/>
<text transform="translate(341.80,312.50) scale(0.92,1)" font-size="10.0" font-weight="normal" text-anchor="middle" fill="#1c1c1c">ms</text>
<text transform="translate(341.70,328.40) scale(0.885,1)" font-size="8.9" font-weight="normal" text-anchor="middle" fill="#1c1c1c" style="word-spacing:1.6px">38 <tspan font-family="DejaVu Sans, sans-serif" font-weight="bold" font-size="0.9em">↔</tspan> 80</text>
<text transform="translate(394.40,312.50) scale(0.92,1)" font-size="10.0" font-weight="normal" text-anchor="middle" fill="#1c1c1c">µV</text>
<text transform="translate(394.10,328.40) scale(0.885,1)" font-size="8.9" font-weight="normal" text-anchor="middle" fill="#1c1c1c" style="word-spacing:1.6px">-2.0 <tspan font-family="DejaVu Sans, sans-serif" font-weight="bold" font-size="0.9em">↔</tspan> -9.5</text>
<text transform="translate(452.20,312.50) scale(0.92,1)" font-size="10.0" font-weight="normal" text-anchor="middle" fill="#1c1c1c">W-ratio<tspan dy="-1.7" font-weight="bold" font-size="1.08em">¹</tspan></text>
<text transform="translate(449.70,328.40) scale(0.885,1)" font-size="8.9" font-weight="normal" text-anchor="middle" fill="#1c1c1c" style="word-spacing:1.6px">0.75 <tspan font-family="DejaVu Sans, sans-serif" font-weight="bold" font-size="0.9em">↔</tspan> 1.13</text>
<rect x="316.50" y="332.60" width="162.50" height="32.10" fill="#bcf6bc"/>
<rect x="316.50" y="369.20" width="162.50" height="15.40" fill="#bcf6bc"/>
<rect x="366.60" y="332.60" width="54.90" height="16.10" fill="#fa8181"/>
<rect x="366.60" y="348.70" width="54.90" height="16.00" fill="#ffff00"/>
<rect x="366.60" y="369.20" width="54.90" height="15.40" fill="#fa8181"/>
<text transform="translate(341.55,344.40) scale(0.9,1)" font-size="8.9" font-weight="normal" text-anchor="middle" fill="#1c1c1c">58 (32%)</text>
<text transform="translate(394.05,344.40) scale(0.9,1)" font-size="8.9" font-weight="normal" text-anchor="middle" fill="#1c1c1c">-1.3 (0%)</text>
<text transform="translate(449.70,344.40) scale(0.9,1)" font-size="8.9" font-weight="normal" text-anchor="middle" fill="#1c1c1c">0.80 (12%)</text>
<text transform="translate(341.55,360.60) scale(0.9,1)" font-size="8.9" font-weight="normal" text-anchor="middle" fill="#1c1c1c">44 (12%)</text>
<text transform="translate(394.05,360.60) scale(0.9,1)" font-size="8.9" font-weight="normal" text-anchor="middle" fill="#1c1c1c">-2.1 (4%)</text>
<text transform="translate(449.70,360.60) scale(0.9,1)" font-size="8.9" font-weight="normal" text-anchor="middle" fill="#1c1c1c">0.91 (63%)</text>
<text transform="translate(341.55,380.20) scale(0.9,1)" font-size="8.9" font-weight="normal" text-anchor="middle" fill="#1c1c1c">51 (16%)</text>
<text transform="translate(394.05,380.20) scale(0.9,1)" font-size="8.9" font-weight="normal" text-anchor="middle" fill="#1c1c1c">-1.7 (1%)</text>
<text transform="translate(449.70,380.20) scale(0.9,1)" font-size="8.9" font-weight="normal" text-anchor="middle" fill="#1c1c1c">0.85 (30%)</text>
<text transform="translate(315.00,344.60) scale(0.9,1)" font-size="8.9" font-weight="normal" text-anchor="end" fill="#1c1c1c" class="ax">1</text>
<text transform="translate(315.00,360.80) scale(0.9,1)" font-size="8.9" font-weight="normal" text-anchor="end" fill="#1c1c1c" class="ax">2</text>
<line x1="315.20" y1="366.90" x2="479.00" y2="366.90" stroke="#8c8c8c" stroke-width="1.9"/>
</svg>
</body></html>
